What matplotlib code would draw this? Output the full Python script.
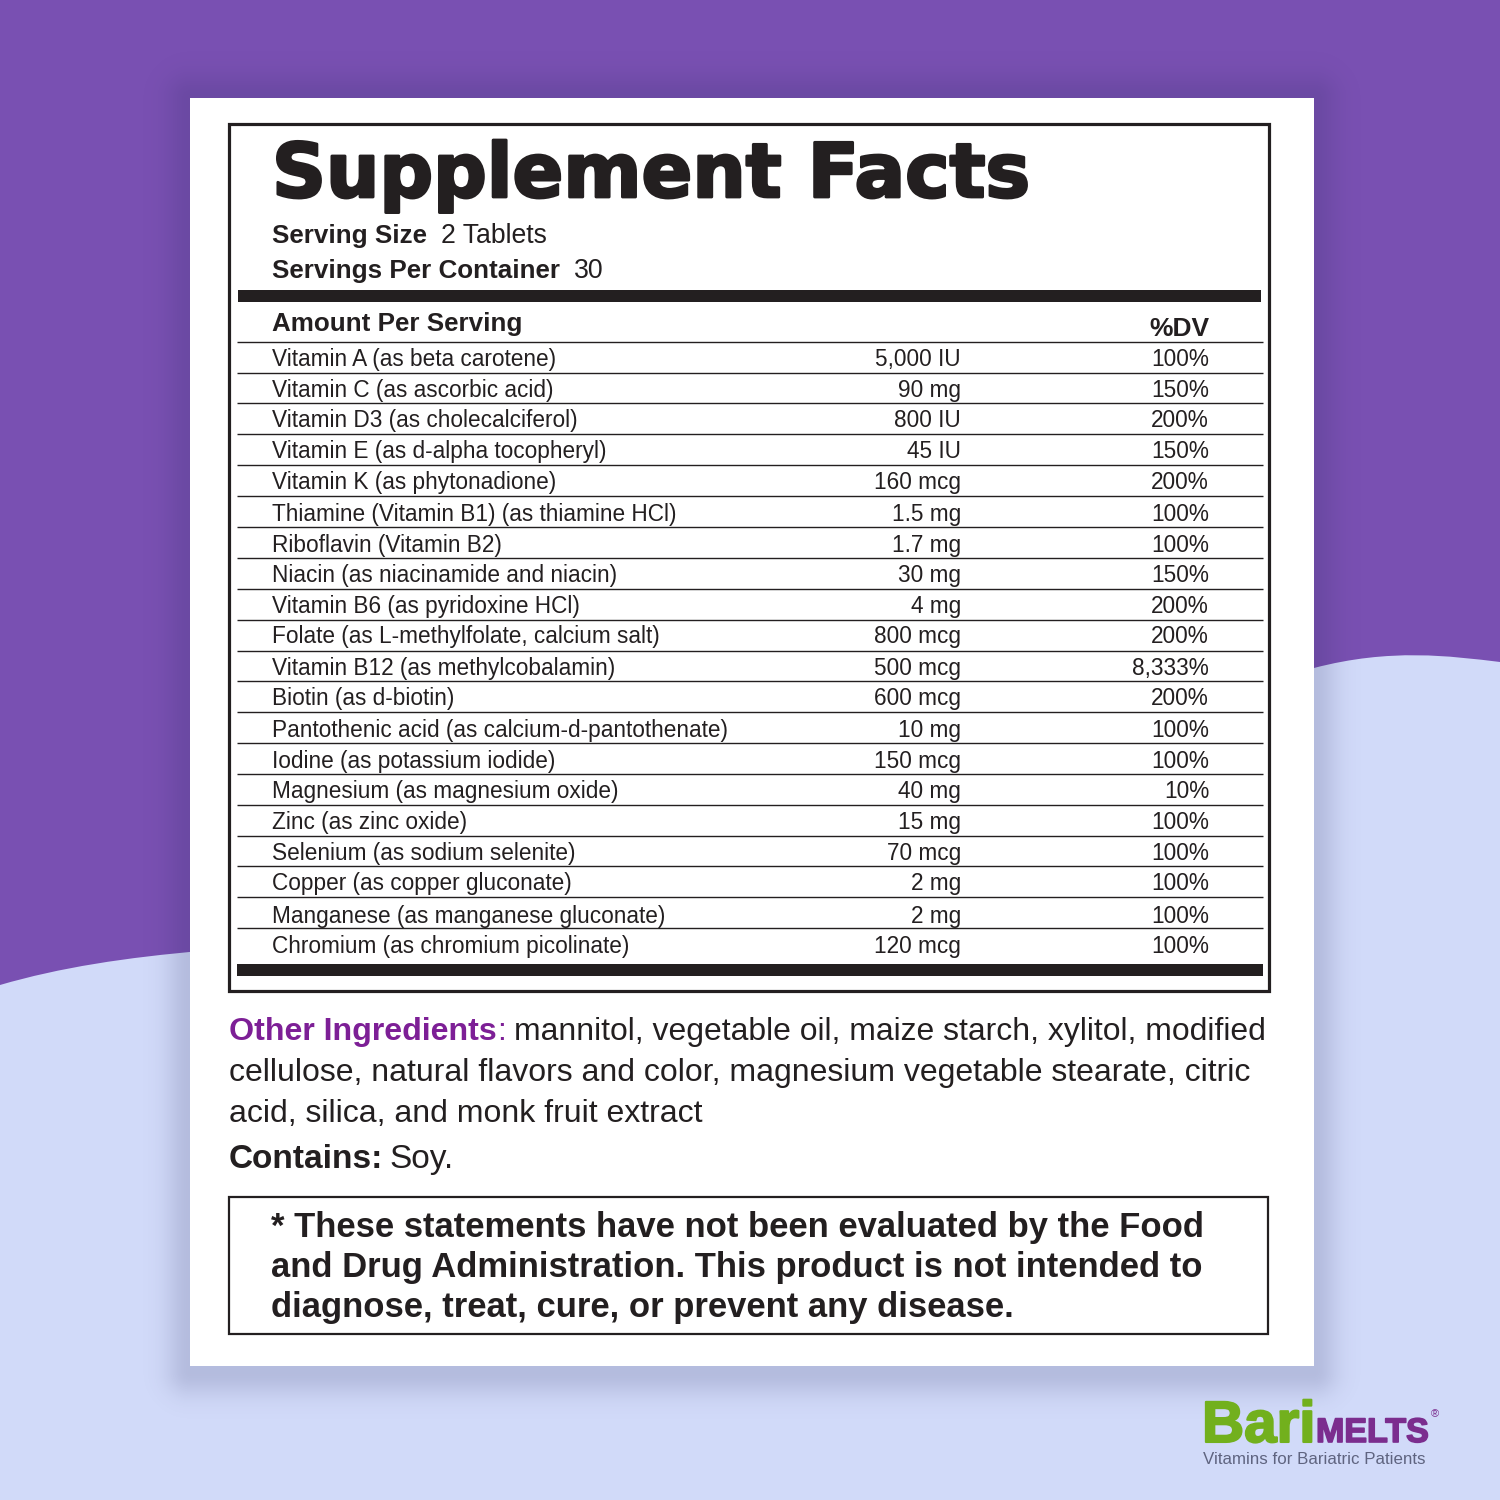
import matplotlib
matplotlib.use('Agg')
import matplotlib.pyplot as plt
import matplotlib.patheffects as pe
from matplotlib.patches import Rectangle, PathPatch
from matplotlib.path import Path
import numpy as np

SANS = 'Liberation Sans'
INK = '#231f20'

# table data
nutrients = ['Vitamin A (as beta carotene)', 'Vitamin C (as ascorbic acid)', 'Vitamin D3 (as cholecalciferol)',
             'Vitamin E (as d-alpha tocopheryl)', 'Vitamin K (as phytonadione)',
             'Thiamine (Vitamin B1) (as thiamine HCl)', 'Riboflavin (Vitamin B2)',
             'Niacin (as niacinamide and niacin)', 'Vitamin B6 (as pyridoxine HCl)',
             'Folate (as L-methylfolate, calcium salt)', 'Vitamin B12 (as methylcobalamin)',
             'Biotin (as d-biotin)', 'Pantothenic acid (as calcium-d-pantothenate)',
             'Iodine (as potassium iodide)', 'Magnesium (as magnesium oxide)', 'Zinc (as zinc oxide)',
             'Selenium (as sodium selenite)', 'Copper (as copper gluconate)',
             'Manganese (as manganese gluconate)', 'Chromium (as chromium picolinate)']
amounts = ['5,000 IU', '90 mg', '800 IU', '45 IU', '160 mcg', '1.5 mg', '1.7 mg', '30 mg', '4 mg', '800 mcg',
           '500 mcg', '600 mcg', '10 mg', '150 mcg', '40 mg', '15 mg', '70 mcg', '2 mg', '2 mg', '120 mcg']
daily_value = ['100%', '150%', '200%', '150%', '200%', '100%', '100%', '150%', '200%', '200%',
               '8,333%', '200%', '100%', '100%', '10%', '100%', '100%', '100%', '100%', '100%']
row_base = [366, 397, 427, 458, 489, 521, 552, 582, 613, 643, 675, 705, 737, 768, 798, 829, 860, 890, 923, 953]
rule_y = [342, 373, 403, 434, 465, 496, 527, 558, 589, 620, 651, 681, 712, 743, 774, 805, 836, 866, 897, 928]

fig = plt.figure(figsize=(15, 15), dpi=100)
ax = fig.add_axes([0, 0, 1, 1])
ax.set_xlim(0, 1500)
ax.set_ylim(1500, 0)
ax.axis('off')

# background with the wavy light area
ax.add_patch(Rectangle((0, 0), 1500, 1500, fc='#7950b2', ec='none', zorder=0))
verts = [(0, 985), (120, 950), (260, 945), (500, 935), (800, 925), (1100, 760), (1314, 668),
         (1390, 648), (1450, 656), (1500, 662), (1500, 1500), (0, 1500), (0, 985)]
codes = [Path.MOVETO] + [Path.CURVE4] * 9 + [Path.LINETO] * 3
ax.add_patch(PathPatch(Path(verts, codes), fc='#d1daf9', ec='none', zorder=1))

# soft shadow behind the card
xx, yy = np.meshgrid(np.arange(1500) + 0.5, np.arange(1500) + 0.5)
dx = np.maximum(np.maximum(190 - xx, xx - 1314), 0)
dy = np.maximum(np.maximum(98 - yy, yy - 1372), 0)
shadow = np.zeros((1500, 1500, 4))
shadow[..., :3] = (0.16, 0.16, 0.36)
shadow[..., 3] = 0.17 * np.exp(-(dx ** 2 + dy ** 2) / 24 ** 2)
ax.imshow(shadow, extent=(0, 1500, 1500, 0), zorder=2, aspect='auto', interpolation='bilinear')
ax.set_xlim(0, 1500)
ax.set_ylim(1500, 0)
ax.add_patch(Rectangle((190, 98), 1124, 1268, fc='white', ec='none', zorder=3))

# label frame and rules
ax.add_patch(Rectangle((229, 124), 1039.5, 867, fc='none', ec=INK, lw=2.3, zorder=4))
ax.add_patch(Rectangle((238, 290), 1023, 12, fc=INK, ec='none', zorder=4))
ax.add_patch(Rectangle((237, 964), 1026, 12, fc=INK, ec='none', zorder=4))
for y in rule_y:
    ax.plot([237, 1263], [y, y], color=INK, lw=1.0, solid_capstyle='butt', zorder=4)
ax.add_patch(Rectangle((229, 1197), 1039, 137, fc='none', ec=INK, lw=1.6, zorder=4))


def put(x, y, s, size, weight='normal', color=INK, ha='left', family=SANS, fat=0):
    t = ax.text(x, y, s, fontsize=size, fontweight=weight, color=color, ha=ha, va='baseline',
                family=family, zorder=5)
    if fat:
        t.set_path_effects([pe.withStroke(linewidth=fat, foreground=color)])


put(272, 197, 'Supplement Facts', 54, 'bold', family='DejaVu Sans', fat=2.0)
put(272, 243, 'Serving Size', 18.7, 'bold')
put(441, 243, '2 Tablets', 19.2)
put(272, 278, 'Servings Per Container', 18.7, 'bold')
put(574, 278, '30', 19.2)
put(272, 331, 'Amount Per Serving', 18.7, 'bold')
put(1209, 336, '%DV', 19, 'bold', ha='right')

for name, amt, dv, y in zip(nutrients, amounts, daily_value, row_base):
    put(272, y, name, 16.3)
    put(961, y, amt, 16.3, ha='right')
    put(1209, y, dv, 16.3, ha='right')

put(229, 1040, 'Other Ingredients', 23.1, 'bold', color='#7d1f96')
put(497, 1040, ':', 23.1, color='#7d1f96')
put(514, 1040, 'mannitol, vegetable oil, maize starch, xylitol, modified', 22.95)
put(229, 1081, 'cellulose, natural flavors and color, magnesium vegetable stearate, citric', 23.0)
put(229, 1122, 'acid, silica, and monk fruit extract', 23.0)
put(229, 1168, 'Contains:', 24, 'bold')
put(389, 1168, 'Soy.', 24)

put(271, 1237, '* These statements have not been evaluated by the Food', 24.95, 'bold')
put(271, 1277, 'and Drug Administration. This product is not intended to', 24.95, 'bold')
put(271, 1317, 'diagnose, treat, cure, or prevent any disease.', 24.95, 'bold')

# logo
put(1202, 1442, 'Bari', 42, 'bold', color='#72b01d', fat=1.5)
put(1316, 1442, 'MELTS', 24.5, 'bold', color='#7b2d8e', fat=1.2)
put(1431, 1417, '®', 8, color='#7b2d8e')
put(1203, 1464, 'Vitamins for Bariatric Patients', 12.2, color='#5f6480')

fig.savefig('out.png', dpi=100)
